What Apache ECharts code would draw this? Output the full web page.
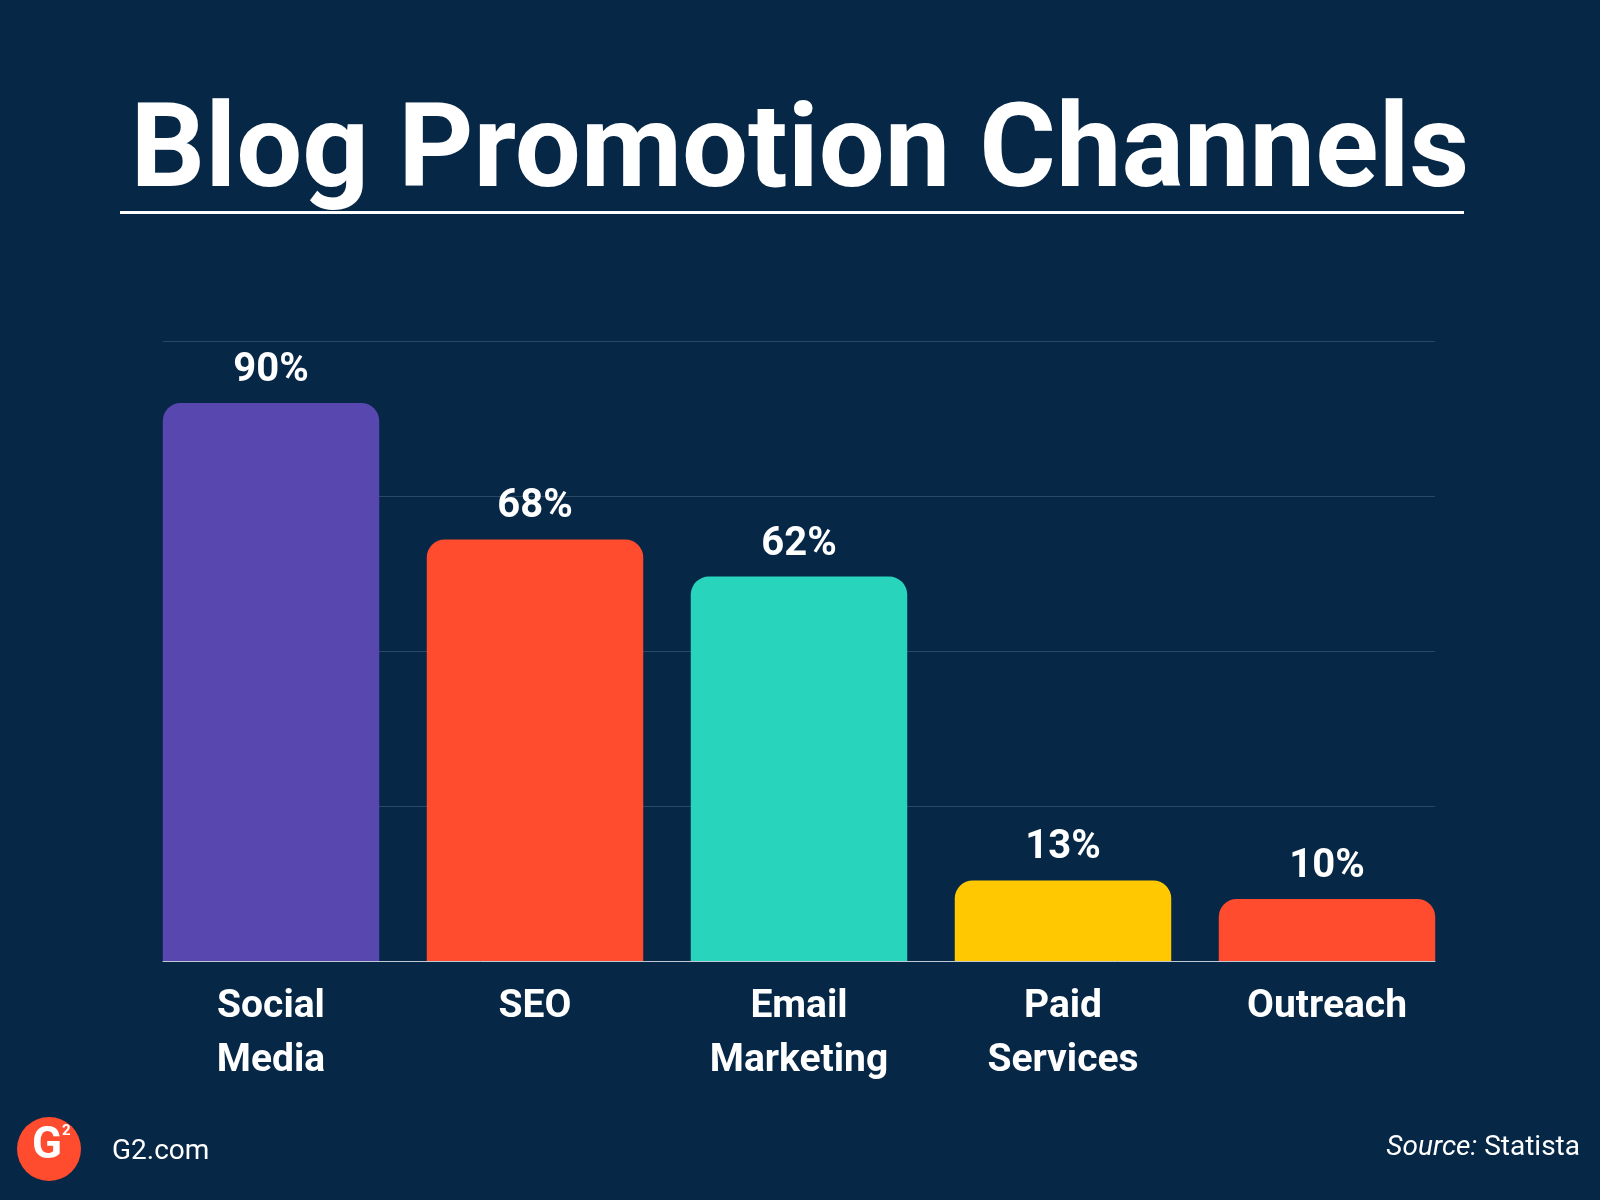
<!DOCTYPE html>
<html>
<head>
<meta charset="utf-8">
<script src="https://cdn.jsdelivr.net/npm/echarts@6/dist/echarts.min.js"></script>
<style>html,body{margin:0;padding:0;background:#062746}#chart{width:1600px;height:1200px}</style>
</head>
<body>
<div id="chart"></div>
<script>
const categories = ['Social\nMedia', 'SEO', 'Email\nMarketing', 'Paid\nServices', 'Outreach']
const values = [90, 68, 62, 13, 10]
const colors = ['#5947b0', '#ff4b2e', '#29d4bd', '#ffc800', '#ff4b2e']

const chart = echarts.init(document.getElementById('chart'))
chart.setOption({
  backgroundColor: '#062746',
  title: {
    text: 'Blog Promotion Channels',
    left: 'center',
    top: 93,
    textStyle: {color: '#fff', fontSize: 117, fontWeight: 'bold', fontFamily: 'Roboto'}
  },
  graphic: [
    {type: 'rect', shape: {x: 120, y: 211, width: 1344, height: 3}, style: {fill: '#fff'}},
    {type: 'circle', shape: {cx: 49, cy: 1149, r: 32}, style: {fill: '#ff4b2e'}},
    {type: 'text', left: 32, top: 1125, style: {text: 'G', fill: '#fff', font: 'bold 44px Roboto'}},
    {type: 'text', left: 62, top: 1124, style: {text: '2', fill: '#fff', font: 'bold 15px Roboto'}},
    {type: 'text', left: 112, top: 1138, style: {text: 'G2.com', fill: '#fff', font: '28px Roboto'}},
    {type: 'text', right: 20, top: 1134, style: {
      text: '{i|Source:} Statista', fill: '#fff', font: '28px Roboto',
      rich: {i: {fontStyle: 'italic', fontSize: 28, fontFamily: 'Roboto', fill: '#fff'}}
    }}
  ],
  // grid 0 carries the split lines and axis line, grid 1 the bars (bars reach the edges)
  grid: [
    {left: 163, right: 165, top: 341, bottom: 239},
    {left: 139, right: 141, top: 341, bottom: 239}
  ],
  xAxis: [
    {
      type: 'category', gridIndex: 0, data: categories,
      axisLine: {lineStyle: {color: '#c0c8d4', width: 1}},
      axisTick: {show: false}, axisLabel: {show: false}
    },
    {
      type: 'category', gridIndex: 1, data: categories,
      axisLine: {show: false}, axisTick: {show: false},
      axisLabel: {color: '#fff', fontSize: 39, fontWeight: 'bold', fontFamily: 'Roboto', lineHeight: 54, margin: 19}
    }
  ],
  yAxis: [
    {
      type: 'value', gridIndex: 0, min: 0, max: 100, interval: 25,
      axisLabel: {show: false}, axisLine: {show: false},
      splitLine: {lineStyle: {color: '#2a4763', width: 1}}
    },
    {
      type: 'value', gridIndex: 1, min: 0, max: 100, interval: 25,
      axisLabel: {show: false}, axisLine: {show: false}, splitLine: {show: false}
    }
  ],
  series: [{
    type: 'bar',
    xAxisIndex: 1,
    yAxisIndex: 1,
    z: 1,
    barCategoryGap: '18%',
    data: values.map((v, i) => ({value: v, itemStyle: {color: colors[i]}})),
    itemStyle: {borderRadius: [18, 18, 0, 0]},
    label: {
      show: true,
      position: 'top',
      distance: 12,
      formatter: '{c}%',
      color: '#fff',
      fontSize: 40,
      fontWeight: 'bold',
      fontFamily: 'Roboto'
    }
  }]
})
</script>
</body>
</html>
